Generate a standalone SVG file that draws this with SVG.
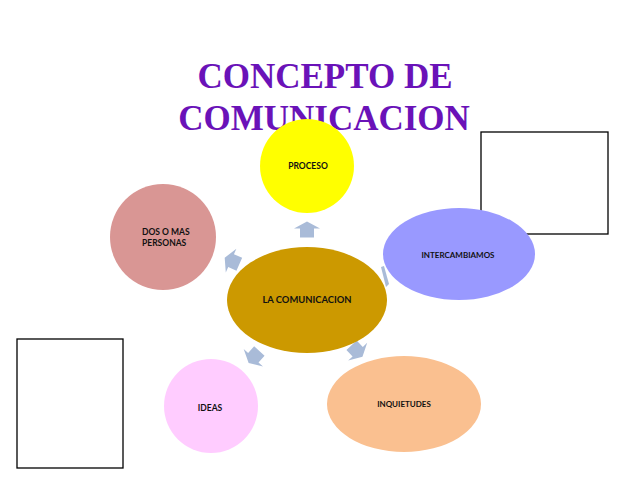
<svg xmlns="http://www.w3.org/2000/svg" width="638" height="479" viewBox="0 0 638 479">
<style>
.title{font-family:"Liberation Serif","Times New Roman",serif;font-weight:bold;font-size:35px;fill:#6A12B8;text-anchor:middle}
.lbl{font-family:Lato,"Liberation Sans",sans-serif;font-weight:bold;font-size:8.5px;fill:#111;dominant-baseline:central}
.box{fill:#fff;stroke:#000;stroke-width:1.3}
.arr{fill:#A9BBD8}
</style>
<defs>
<polygon id="arrow" points="0,-8 13,-1 7,-1 7,8 -7,8 -7,-1 -13,-1"/>
</defs>
<rect width="638" height="479" fill="#fff"/>
<text class="title" x="325" y="88">CONCEPTO DE</text>
<text class="title" x="324" y="130">COMUNICACION</text>
<rect class="box" x="481" y="132" width="127" height="102"/>
<rect class="box" x="17" y="339" width="106" height="129"/>
<g id="connectors" class="arr">
<use href="#arrow" transform="translate(307,229.5)"/>
<polygon points="381,267 384,266 389,284 386,287"/>
<use href="#arrow" transform="translate(357,351) rotate(137)"/>
<use href="#arrow" transform="translate(254,357) rotate(222)"/>
<use href="#arrow" transform="translate(232,261) rotate(-66)"/>
</g>
<g id="proceso">
<circle cx="307" cy="166" r="47" fill="#FFFF00"/>
<text class="lbl" x="308" y="166" text-anchor="middle">PROCESO</text>
</g>
<g id="intercambiamos">
<ellipse cx="459" cy="254" rx="76" ry="46" fill="#9999FF"/>
<text class="lbl" x="458" y="255" text-anchor="middle" style="font-size:8px">INTERCAMBIAMOS</text>
</g>
<g id="la-comunicacion">
<ellipse cx="307" cy="300" rx="80" ry="53" fill="#CC9900"/>
<text class="lbl" x="307" y="299" text-anchor="middle" style="font-size:9.4px">LA COMUNICACION</text>
</g>
<g id="dos-o-mas-personas">
<circle cx="163" cy="237" r="53" fill="#D99694"/>
<text class="lbl" x="142" y="232">DOS O MAS</text>
<text class="lbl" x="142" y="243">PERSONAS</text>
</g>
<g id="inquietudes">
<ellipse cx="404" cy="404" rx="77" ry="48" fill="#FAC090"/>
<text class="lbl" x="404" y="404" text-anchor="middle" style="font-size:8px">INQUIETUDES</text>
</g>
<g id="ideas">
<circle cx="211" cy="406" r="47" fill="#FFCCFF"/>
<text class="lbl" x="210" y="408" text-anchor="middle">IDEAS</text>
</g>
</svg>
